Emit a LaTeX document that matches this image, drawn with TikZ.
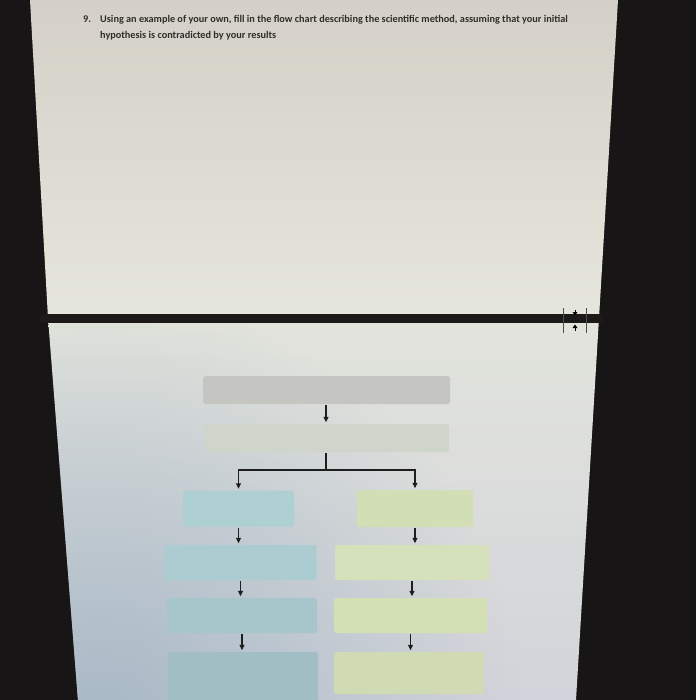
\documentclass[tikz,border=0pt]{standalone}
\usepackage{fontspec}
\setmainfont{Carlito}
\usetikzlibrary{arrows.meta,fadings}
\definecolor{bgdark}{HTML}{171515}
\definecolor{barink}{HTML}{1C1A19}
\definecolor{pagetop}{HTML}{D4D0C7}
\definecolor{pagemid}{HTML}{E5E6DC}
\definecolor{lowtop}{HTML}{E2E4DC}
\definecolor{lowbot}{HTML}{D3D4DB}
\definecolor{blueish}{HTML}{A4B6C4}
\definecolor{topbox}{HTML}{C5C6C2}
\definecolor{secbox}{HTML}{CFD5CB}
\definecolor{blueA}{HTML}{AFD0D3}
\definecolor{blueB}{HTML}{ABCDD1}
\definecolor{blueC}{HTML}{A6C6CB}
\definecolor{blueD}{HTML}{A2BEC5}
\definecolor{greenA}{HTML}{D2DFB6}
\definecolor{greenB}{HTML}{D5E1BA}
\definecolor{greenC}{HTML}{D3DFB5}
\definecolor{greenD}{HTML}{D0DAB3}
\definecolor{textgray}{HTML}{2E2E2C}
\definecolor{inkline}{HTML}{1E1E1E}
\tikzfading[name=softglow, inner color=transparent!0, outer color=transparent!100]
\begin{document}
\begin{tikzpicture}[x=1pt,y=-1pt,
  box/.style={draw=none, rounded corners=2.5pt, inner sep=0pt},
  arr/.style={-{Triangle[length=5.5pt,width=5pt]}, line width=1.2pt, draw=inkline, shorten <=1pt, shorten >=1.5pt},
  conn/.style={line width=1.2pt, draw=inkline},
  qtext/.style={anchor=base west, inner sep=0pt, text=textgray, font=\bfseries\fontsize{10.25}{12}\selectfont},
]
\useasboundingbox (0,0) rectangle (696,700);
% dark surroundings
\fill[bgdark] (0,0) rectangle (696,700);
% page, upper part
\shade[top color=pagetop, bottom color=pagemid] (30,0) -- (618,0) -- (599,318) -- (48,318) -- cycle;
% page, lower part
\shade[top color=lowtop, bottom color=lowbot] (48,318) -- (599,318) -- (576,700) -- (78,700) -- cycle;
\begin{scope}
  \clip (48,318) -- (599,318) -- (576,700) -- (78,700) -- cycle;
  \fill[blueish, path fading=softglow, fill opacity=0.9] (100,720) circle (420pt);
\end{scope}
% thick divider bar
\fill[barink] (40,314) rectangle (603,323);
% ruler marker
\draw[gray!60!black, line width=0.7pt] (563,308) -- (563,333) (586,308) -- (586,333);
\fill[black] (572.5,312) -- (577.5,312) -- (575,315.5) -- cycle;
\draw[black, line width=0.8pt] (575,309.5) -- (575,313);
\fill[black] (572.5,328) -- (577.5,328) -- (575,324.5) -- cycle;
\draw[black, line width=0.8pt] (575,327) -- (575,330.5);

% question text
\node[qtext] (num) at (83,23) {9.};
\node[qtext] (q1) at (100,23) {Using an example of your own, fill in the flow chart describing the scientific method, assuming that your initial};
\node[qtext] (q2) at (100,39) {hypothesis is contradicted by your results};

% boxes
\node[box, fill=topbox, minimum width=247pt, minimum height=28pt] (top) at (326.5,390) {};
\node[box, fill=secbox, minimum width=244pt, minimum height=28pt] (sec) at (327,438) {};
\node[box, fill=blueA, minimum width=111pt, minimum height=36pt] (L1) at (238.5,508.5) {};
\node[box, fill=greenA, minimum width=116pt, minimum height=37pt] (R1) at (415,508.5) {};
\node[box, fill=blueB, minimum width=152pt, minimum height=35pt] (L2) at (240.5,562.5) {};
\node[box, fill=greenB, minimum width=154pt, minimum height=35pt] (R2) at (412,562.5) {};
\node[box, fill=blueC, minimum width=150pt, minimum height=35pt] (L3) at (242,615.5) {};
\node[box, fill=greenC, minimum width=153pt, minimum height=35pt] (R3) at (410.5,615.5) {};
\node[box, fill=blueD, minimum width=150pt, minimum height=56pt] (L4) at (243,680) {};
\node[box, fill=greenD, minimum width=150pt, minimum height=42pt] (R4) at (409,673) {};

% connectors
\draw[arr] (top.south -| 326,0) -- (326,0 |- sec.north);
\coordinate (bj) at (326,470);
\draw[conn] ([yshift=-1pt]bj |- sec.south) -- (bj);
\draw[arr, shorten <=0pt] (bj) -| (L1.north);
\draw[arr, shorten <=0pt] (bj) -| (R1.north);
\draw[arr] (L1.south) -- (L1.south |- L2.north);
\draw[arr] (L2.south) -- (L2.south |- L3.north);
\draw[arr] (L3.south) -- (L3.south |- L4.north);
\draw[arr] (R1.south) -- (R1.south |- R2.north);
\draw[arr] (R2.south) -- (R2.south |- R3.north);
\draw[arr] (R3.south) -- (R3.south |- R4.north);
\end{tikzpicture}
\end{document}
